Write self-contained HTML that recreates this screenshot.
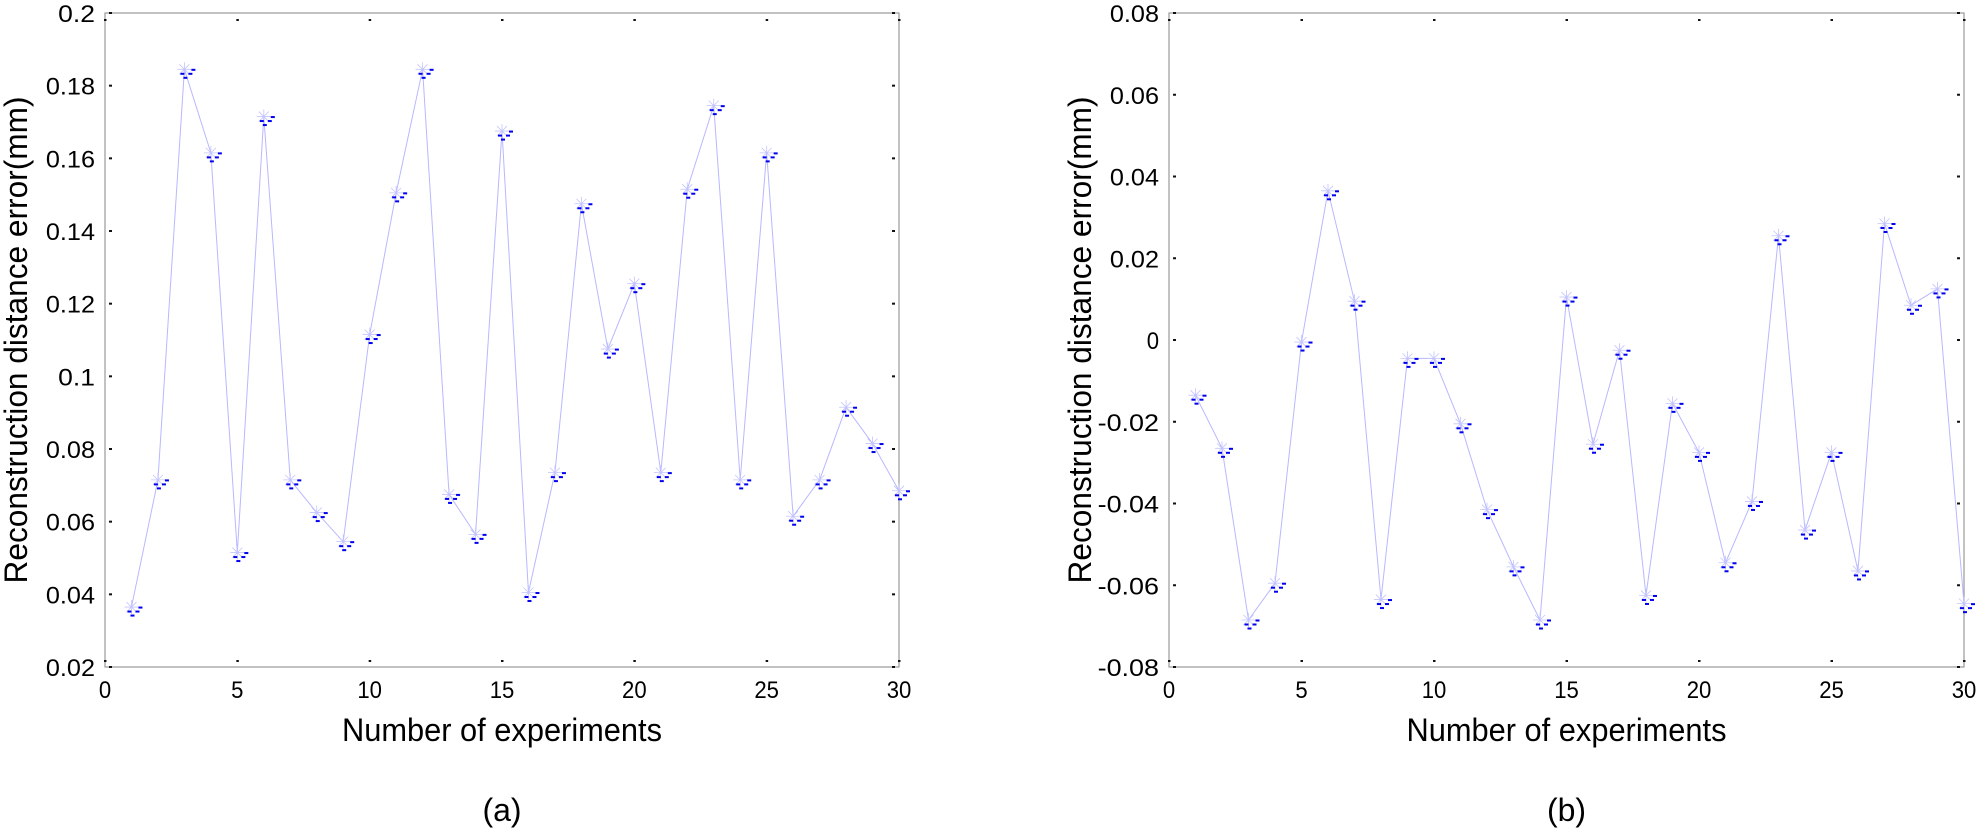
<!DOCTYPE html>
<html><head><meta charset="utf-8"><style>
html,body{margin:0;padding:0;background:#fff;}
svg{display:block;font-family:"Liberation Sans",Arial,sans-serif;}
</style></head><body>
<svg id="s" width="1979" height="831" viewBox="0 0 1979 831" xmlns="http://www.w3.org/2000/svg"></svg>
<script>
const NS="http://www.w3.org/2000/svg";
const svg=document.getElementById('s');
function el(t,a,txt){const e=document.createElementNS(NS,t);for(const k in a)e.setAttribute(k,a[k]);if(txt!==undefined)e.textContent=txt;svg.appendChild(e);return e;}
function tl(s){return (s.length*0.556*24*0.92).toFixed(1);}
function plot(o){
  const {x0,x1,y0,y1,ymin,ymax,yticks,ylabels,data,lab}=o;
  const X=v=>x0+(v/30)*(x1-x0), Y=v=>y1-(v-ymin)/(ymax-ymin)*(y1-y0);
  el('rect',{x:x0,y:y0,width:x1-x0,height:y1-y0,fill:'none',stroke:'#9a9a9a','stroke-width':1.2});
  for(let i=0;i<=6;i++){const x=X(i*5);
    el('rect',{x:x-1,y:y0+6,width:2.5,height:2,fill:'#111'});
    el('rect',{x:x-1,y:y1-7,width:2.5,height:2,fill:'#111'});
    const s=String(i*5);
    el('text',{x:x,y:698,'font-size':24,'text-anchor':'middle',fill:'#000',textLength:tl(s),lengthAdjust:'spacingAndGlyphs'},s);}
  yticks.forEach((v,i)=>{const y=Y(v);
    el('rect',{x:x0+4,y:y-1,width:3,height:2,fill:'#111'});
    el('rect',{x:x1-7,y:y-1,width:3,height:2,fill:'#111'});
    const s=ylabels[i];
    el('text',{x:x0-10,y:y+9,'font-size':24,'text-anchor':'end',fill:'#000',textLength:tl(s),lengthAdjust:'spacingAndGlyphs'},s);});
  let pts=data.map((v,i)=>X(i+1)+','+Y(v)).join(' ');
  el('polyline',{points:pts,fill:'none',stroke:'#b8b8ff','stroke-width':1});
  data.forEach((v,i)=>{const x=X(i+1),y=Y(v);
    el('path',{d:`M${x-7} ${y}H${x+7}M${x} ${y-7}V${y+7}M${x-5} ${y-5}L${x+5} ${y+5}M${x-5} ${y+5}L${x+5} ${y-5}`,stroke:'#c4c4ff','stroke-width':0.8,fill:'none'});
    [[-3,4],[5,4],[8,0],[0,8]].forEach(d=>el('rect',{x:x+d[0]-1,y:y+d[1]-0.5,width:4,height:2,fill:'#0000ee'}));
  });
  const cx=(x0+x1)/2;
  el('text',{x:cx,y:741,'font-size':32,'text-anchor':'middle',fill:'#000',textLength:320,lengthAdjust:'spacingAndGlyphs'},'Number of experiments');
  el('text',{x:cx,y:821,'font-size':32,'text-anchor':'middle',fill:'#000'},lab);
  const ly=(y0+y1)/2, lx=x0-78;
  el('text',{x:lx,y:ly,'font-size':32,'text-anchor':'middle',fill:'#000',textLength:487,lengthAdjust:'spacingAndGlyphs',transform:`rotate(-90 ${lx} ${ly})`},'Reconstruction distance error(mm)');
}
plot({x0:105,x1:899,y0:13,y1:667,ymin:0.02,ymax:0.2,
 yticks:[0.02,0.04,0.06,0.08,0.1,0.12,0.14,0.16,0.18,0.2],
 ylabels:['0.02','0.04','0.06','0.08','0.1','0.12','0.14','0.16','0.18','0.2'],
 data:[0.0365,0.0715,0.1845,0.1615,0.0515,0.1715,0.0715,0.0625,0.0545,0.1115,0.1505,0.1845,0.0675,0.0565,0.1675,0.0405,0.0735,0.1475,0.1075,0.1255,0.0735,0.1515,0.1745,0.0715,0.1615,0.0615,0.0715,0.0915,0.0815,0.0685],lab:'(a)'});
plot({x0:1169,x1:1964,y0:13,y1:667,ymin:-0.08,ymax:0.08,
 yticks:[-0.08,-0.06,-0.04,-0.02,0,0.02,0.04,0.06,0.08],
 ylabels:['-0.08','-0.06','-0.04','-0.02','0','0.02','0.04','0.06','0.08'],
 data:[-0.0135,-0.0265,-0.0685,-0.0595,-0.0005,0.0365,0.0095,-0.0635,-0.0045,-0.0045,-0.0205,-0.0415,-0.0555,-0.0685,0.0105,-0.0255,-0.0025,-0.0625,-0.0155,-0.0275,-0.0545,-0.0395,0.0255,-0.0465,-0.0275,-0.0565,0.0285,0.0085,0.0125,-0.0645],lab:'(b)'});
</script>
</body></html>
